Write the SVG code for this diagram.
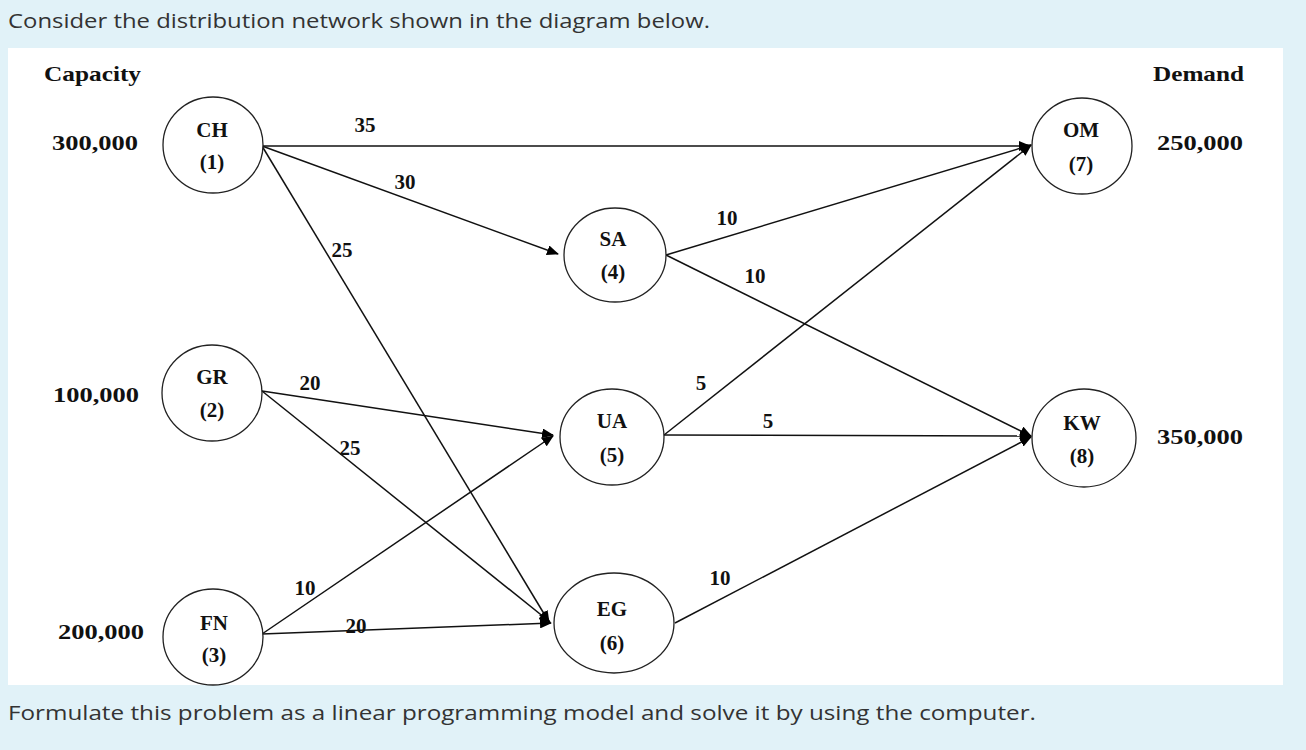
<svg xmlns="http://www.w3.org/2000/svg" width="1306" height="750" viewBox="0 0 1306 750">
<defs>
<marker id="ah" markerWidth="12" markerHeight="10" refX="11" refY="5" orient="auto" markerUnits="userSpaceOnUse"><path d="M0,0 L12,5 L0,10 z" fill="#000"/></marker>
<style>
.n ellipse{fill:#fff;stroke:#222;stroke-width:1.3}
.t{font-family:"Liberation Serif",serif;font-weight:bold;font-size:21px;fill:#111;text-anchor:middle}
.e line{stroke:#111;stroke-width:1.5;marker-end:url(#ah)}
.h{font-family:"Open Sans","Liberation Sans",sans-serif;font-size:20px;fill:#333}
</style>
</defs>
<rect width="1306" height="750" fill="#e1f2f8"/>
<rect x="8" y="48" width="1275" height="637" fill="#fff"/>
<text class="h" x="8" y="28" textLength="702" lengthAdjust="spacingAndGlyphs">Consider the distribution network shown in the diagram below.</text>
<text class="h" x="8" y="720" textLength="1028" lengthAdjust="spacingAndGlyphs">Formulate this problem as a linear programming model and solve it by using the computer.</text>
<g class="e" id="connectors">
<line x1="262" y1="146" x2="1030" y2="146"/>
<line x1="262" y1="146" x2="558" y2="254"/>
<line x1="262" y1="146" x2="549" y2="622"/>
<line x1="262" y1="391" x2="553" y2="435"/>
<line x1="262" y1="391" x2="550" y2="622"/>
<line x1="262" y1="634" x2="553" y2="436"/>
<line x1="262" y1="634" x2="551" y2="623"/>
<line x1="666" y1="255" x2="1031" y2="145"/>
<line x1="666" y1="255" x2="1031" y2="436"/>
<line x1="664" y1="435" x2="1031" y2="145"/>
<line x1="664" y1="435" x2="1031" y2="436"/>
<line x1="675" y1="623" x2="1031" y2="437"/>
</g>
<g class="t">
<text x="365" y="132">35</text>
<text x="405" y="189">30</text>
<text x="342" y="257">25</text>
<text x="310" y="390">20</text>
<text x="350" y="455">25</text>
<text x="305" y="595">10</text>
<text x="356" y="633">20</text>
<text x="727" y="225">10</text>
<text x="755" y="283">10</text>
<text x="701" y="390">5</text>
<text x="768" y="428">5</text>
<text x="720" y="585">10</text>
<text x="44" y="81" style="text-anchor:start" textLength="97" lengthAdjust="spacingAndGlyphs">Capacity</text>
<text x="1153" y="81" style="text-anchor:start" textLength="91" lengthAdjust="spacingAndGlyphs">Demand</text>
<text x="52" y="150" style="text-anchor:start" textLength="86" lengthAdjust="spacingAndGlyphs">300,000</text>
<text x="53" y="402" style="text-anchor:start" textLength="86" lengthAdjust="spacingAndGlyphs">100,000</text>
<text x="58" y="639" style="text-anchor:start" textLength="86" lengthAdjust="spacingAndGlyphs">200,000</text>
<text x="1157" y="150" style="text-anchor:start" textLength="86" lengthAdjust="spacingAndGlyphs">250,000</text>
<text x="1157" y="444" style="text-anchor:start" textLength="86" lengthAdjust="spacingAndGlyphs">350,000</text>
</g>
<g class="n" id="CH"><ellipse cx="213" cy="145" rx="50" ry="48"/><text class="t" x="212" y="137">CH</text><text class="t" x="212" y="169">(1)</text></g>
<g class="n" id="GR"><ellipse cx="212" cy="393" rx="50" ry="48"/><text class="t" x="212" y="384">GR</text><text class="t" x="212" y="417">(2)</text></g>
<g class="n" id="FN"><ellipse cx="213" cy="637" rx="50" ry="48"/><text class="t" x="214" y="630">FN</text><text class="t" x="214" y="662">(3)</text></g>
<g class="n" id="SA"><ellipse cx="615" cy="255" rx="51" ry="47"/><text class="t" x="613" y="246">SA</text><text class="t" x="613" y="279">(4)</text></g>
<g class="n" id="UA"><ellipse cx="612" cy="437" rx="52" ry="48"/><text class="t" x="612" y="428">UA</text><text class="t" x="612" y="462">(5)</text></g>
<g class="n" id="EG"><ellipse cx="614" cy="623" rx="60" ry="50"/><text class="t" x="612" y="616">EG</text><text class="t" x="612" y="650">(6)</text></g>
<g class="n" id="OM"><ellipse cx="1082" cy="146" rx="50" ry="48"/><text class="t" x="1081" y="137">OM</text><text class="t" x="1081" y="171">(7)</text></g>
<g class="n" id="KW"><ellipse cx="1084" cy="438" rx="52" ry="49"/><text class="t" x="1082" y="430">KW</text><text class="t" x="1082" y="463">(8)</text></g>
</svg>
